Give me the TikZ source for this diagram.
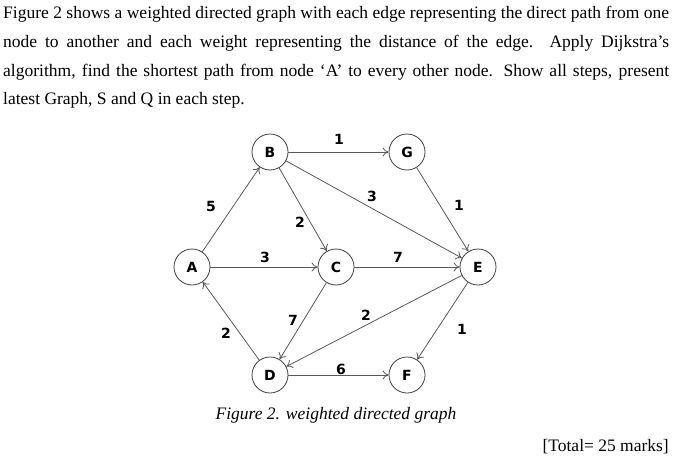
\documentclass[tikz,border=0pt]{standalone}
\usepackage{fontspec}
\setmainfont{Liberation Serif}
\newfontfamily\lblfont{DejaVu Sans}
\usetikzlibrary{arrows.meta}
\begin{document}
\begin{tikzpicture}[x=1pt,y=-1pt,
  vert/.style={circle,draw=black!75,line width=0.8pt,fill=white,minimum size=36pt,inner sep=0pt,font=\lblfont\bfseries\fontsize{14}{16}\selectfont},
  edge/.style={draw=black!65,line width=0.8pt,-{To[length=6pt,width=9pt]}},
  wt/.style={font=\lblfont\bfseries\fontsize{14}{16}\selectfont,inner sep=0pt}]
\useasboundingbox (0,0) rectangle (691,463);
\node[anchor=north west,text width=666pt,align=justify,inner sep=0pt,font=\fontsize{17.5}{28.8}\selectfont] (txt) at (3,6)
{Figure 2 shows a weighted directed graph with each edge representing the direct path from one\linebreak
node to another and each weight representing the distance of the edge. Apply Dijkstra’s\linebreak
algorithm, find the shortest path from node ‘A’ to every other node. Show all steps, present\linebreak
latest Graph, S and Q in each step.};
\node[vert] (A) at (192,267) {A};
\node[vert] (B) at (270,152) {B};
\node[vert] (G) at (407,152) {G};
\node[vert] (C) at (336,267) {C};
\node[vert] (E) at (478,267) {E};
\node[vert] (D) at (270,375) {D};
\node[vert] (F) at (407,375) {F};
\draw[edge] (A) -- (B);
\draw[edge] (B) -- (G);
\draw[edge] (B) -- (E);
\draw[edge] (B) -- (C);
\draw[edge] (G) -- (E);
\draw[edge] (A) -- (C);
\draw[edge] (C) -- (E);
\draw[edge] (C) -- (D);
\draw[edge] (E) -- (D);
\draw[edge] (D) -- (A);
\draw[edge] (E) -- (F);
\draw[edge] (D) -- (F);
\node[wt] (w1) at (211,206) {5};
\node[wt] (w2) at (339,139) {1};
\node[wt] (w3) at (372,196) {3};
\node[wt] (w4) at (300,222) {2};
\node[wt] (w5) at (459,205) {1};
\node[wt] (w6) at (265,257) {3};
\node[wt] (w7) at (398,257) {7};
\node[wt] (w8) at (293,320) {7};
\node[wt] (w9) at (366,315) {2};
\node[wt] (w10) at (226,333) {2};
\node[wt] (w11) at (462,329) {1};
\node[wt] (w12) at (341,369) {6};
\node[font=\itshape\fontsize{17.5}{20}\selectfont] (cap) at (336,415) {Figure 2. weighted directed graph};
\node[anchor=east,font=\fontsize{17.5}{20}\selectfont,inner sep=0pt] (tot) at (669,447) {[Total= 25 marks]};
\end{tikzpicture}
\end{document}
